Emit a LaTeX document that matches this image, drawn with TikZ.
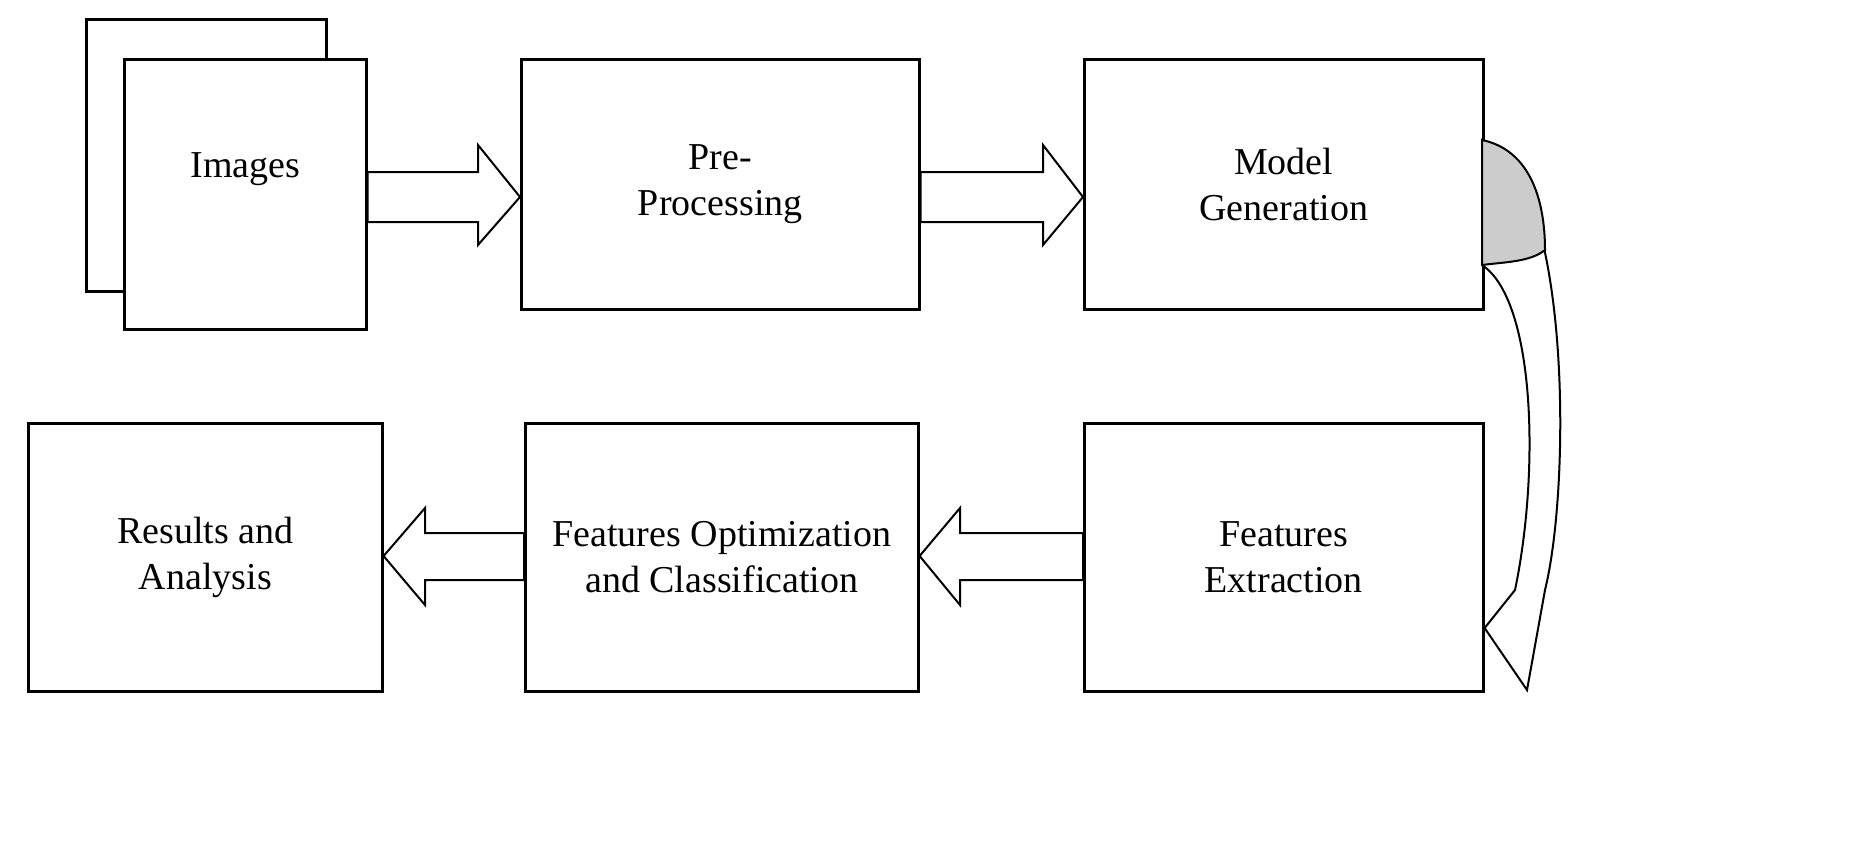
\documentclass[tikz,border=0pt]{standalone}
\usepackage{fontspec}
\setmainfont{Liberation Serif}
\usetikzlibrary{calc}
\begin{document}
\begin{tikzpicture}[x=1pt,y=-1pt,
  box/.style={draw=black,line width=2.6pt,fill=white,align=center,font=\fontsize{38}{46}\selectfont},
  barrow/.style={draw=black,line width=2pt,fill=white,line join=miter}]
\useasboundingbox (0,0) rectangle (1850,846);
\node[box,minimum width=240,minimum height=272,anchor=north west] (back) at (85,18) {};
\node[box,minimum width=242,minimum height=270,anchor=north west] (img) at (123,58) {};
\node at ($(img.center)+(0,-25)$) [font=\fontsize{38}{46}\selectfont] (imgt) {Images};
\node[box,minimum width=398,minimum height=250,anchor=north west] (pre) at (520,58) {Pre-\\Processing};
\node[box,minimum width=399,minimum height=250,anchor=north west] (mod) at (1083,58) {Model\\Generation};
\node[box,minimum width=354,minimum height=268,anchor=north west] (res) at (27,422) {Results and\\Analysis};
\node[box,minimum width=393,minimum height=268,anchor=north west] (opt) at (524,422) {Features Optimization\\and Classification};
\node[box,minimum width=399,minimum height=268,anchor=north west] (ext) at (1083,422) {Features\\Extraction};
% block arrows right
\draw[barrow] (img.east|-0,172) -- (478,172) -- (478,145) -- (pre.west|-0,197) -- (478,245) -- (478,222) -- (img.east|-0,222) -- cycle;
\draw[barrow] (pre.east|-0,172) -- (1043,172) -- (1043,145) -- (mod.west|-0,197) -- (1043,245) -- (1043,222) -- (pre.east|-0,222) -- cycle;
% block arrows left
\draw[barrow] (ext.west|-0,533) -- (960,533) -- (960,508) -- (opt.east|-0,556) -- (960,605) -- (960,580) -- (ext.west|-0,580) -- cycle;
\draw[barrow] (opt.west|-0,533) -- (425,533) -- (425,508) -- (res.east|-0,556) -- (425,605) -- (425,580) -- (opt.west|-0,580) -- cycle;
% curved arrow
\coordinate (ca) at (1482,140);
\coordinate (cb) at (1482,265);
\draw[line width=2pt,fill=white,line join=miter] (ca) .. controls (1570,170) and (1572,480) .. (1545,590)
  -- (1527,690) -- (ext.east|-0,628) -- (1515,590)
  .. controls (1540,470) and (1535,300) .. (cb) -- cycle;
\draw[line width=2pt,fill=gray!40] (ca) .. controls (1530,150) and (1545,200) .. (1545,250)
  .. controls (1530,262) and (1505,262) .. (cb) -- cycle;
\end{tikzpicture}
\end{document}
